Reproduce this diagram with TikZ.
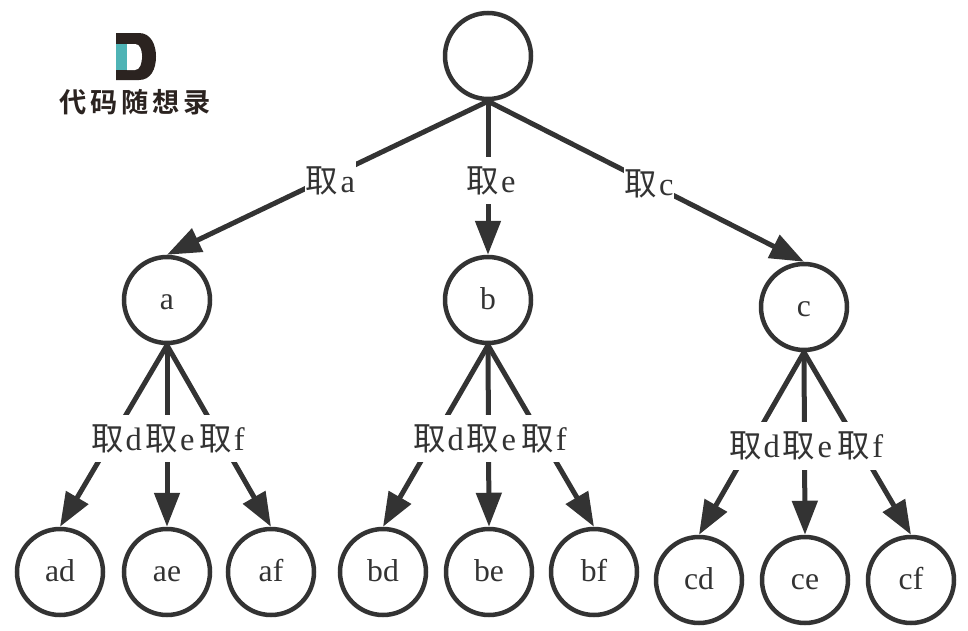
\documentclass[tikz,border=0pt]{standalone}
\usepackage{fontspec}
\setmainfont{Liberation Serif}
\newfontfamily\cjk{Noto Sans CJK SC}
\newfontfamily\cjklogo[LetterSpace=14,BoldFont={Noto Sans CJK SC Bold}]{Noto Sans CJK SC}
\usetikzlibrary{arrows.meta}
\definecolor{inkgrey}{HTML}{333333}
\definecolor{logodark}{HTML}{2B2320}
\definecolor{logoteal}{HTML}{4FB3B5}
\def\qu#1{{\cjk 取}\kern1.2pt #1}
\tikzset{
	state/.style={circle, draw=inkgrey, line width=0.09cm, minimum size=1.72cm, inner sep=0pt, text height=0.38cm, text depth=0pt, font=\fontsize{18}{18}\selectfont, text=inkgrey},
	edge/.style={draw=inkgrey, line width=0.1cm, -{Triangle[length=0.68cm, width=0.5cm]}},
	take/.style={midway, fill=white, inner xsep=0.5pt, inner ysep=0pt, minimum height=0.95cm, xshift=0.06cm, yshift=-0.05cm, text=inkgrey, font=\fontsize{18.5}{18.5}\selectfont}
}

\begin{document}
\begin{tikzpicture}
		%%%%% START %%%%%
		\useasboundingbox (0, 0) rectangle (19.36, 12.6);
		
		\node[state] (root) at (9.76, 11.48) {};
		
		\node[state] (a) at (3.34, 6.6) {a};
		\node[state] (b) at (9.76, 6.6) {b};
		\node[state] (c) at (16.08, 6.46) {c};
		
		\node[state] (ad) at (1.2, 1.16) {ad};
		\node[state] (ae) at (3.34, 1.16) {ae};
		\node[state] (af) at (5.42, 1.16) {af};
		
		\node[state] (bd) at (7.66, 1.16) {bd};
		\node[state] (be) at (9.78, 1.16) {be};
		\node[state] (bf) at (11.88, 1.16) {bf};
		
		\node[state] (cd) at (13.98, 1) {cd};
		\node[state] (ce) at (16.1, 1) {ce};
		\node[state] (cf) at (18.22, 1) {cf};
		
		\draw[edge] (root.south) -- node[take] (ta) {\qu{a}} (a.north);
		\draw[edge] (root.south) -- node[take] (te) {\qu{e}} (b.north);
		\draw[edge] (root.south) -- node[take] (tc) {\qu{c}} (c.north);
		
		\foreach \p in {a, b, c} {
			\draw[edge] (\p.south) -- node[take] (t\p d) {\qu{d}} (\p d.north);
			\draw[edge] (\p.south) -- node[take] (t\p e) {\qu{e}} (\p e.north);
			\draw[edge] (\p.south) -- node[take] (t\p f) {\qu{f}} (\p f.north);
		}
		
		% logo
		\fill[logodark] (2.32, 11.94) -- (2.78, 11.94) .. controls (3.02, 11.94) and (3.12, 11.7) .. (3.12, 11.47) .. controls (3.12, 11.22) and (3.02, 11) .. (2.78, 11) -- (2.32, 11) -- cycle;
		\fill[white] (2.54, 11.72) -- (2.7, 11.72) .. controls (2.8, 11.72) and (2.84, 11.6) .. (2.84, 11.47) .. controls (2.84, 11.34) and (2.8, 11.2) .. (2.7, 11.2) -- (2.54, 11.2) -- cycle;
		\fill[logoteal] (2.32, 11.72) rectangle (2.54, 11.2);
		\node[font=\cjklogo\bfseries\fontsize{15.5}{15.5}\selectfont, text=logodark] (logotext) at (2.7, 10.56) {代码随想录};
		
		%%%%% END %%%%%
	\end{tikzpicture}
\end{document}
